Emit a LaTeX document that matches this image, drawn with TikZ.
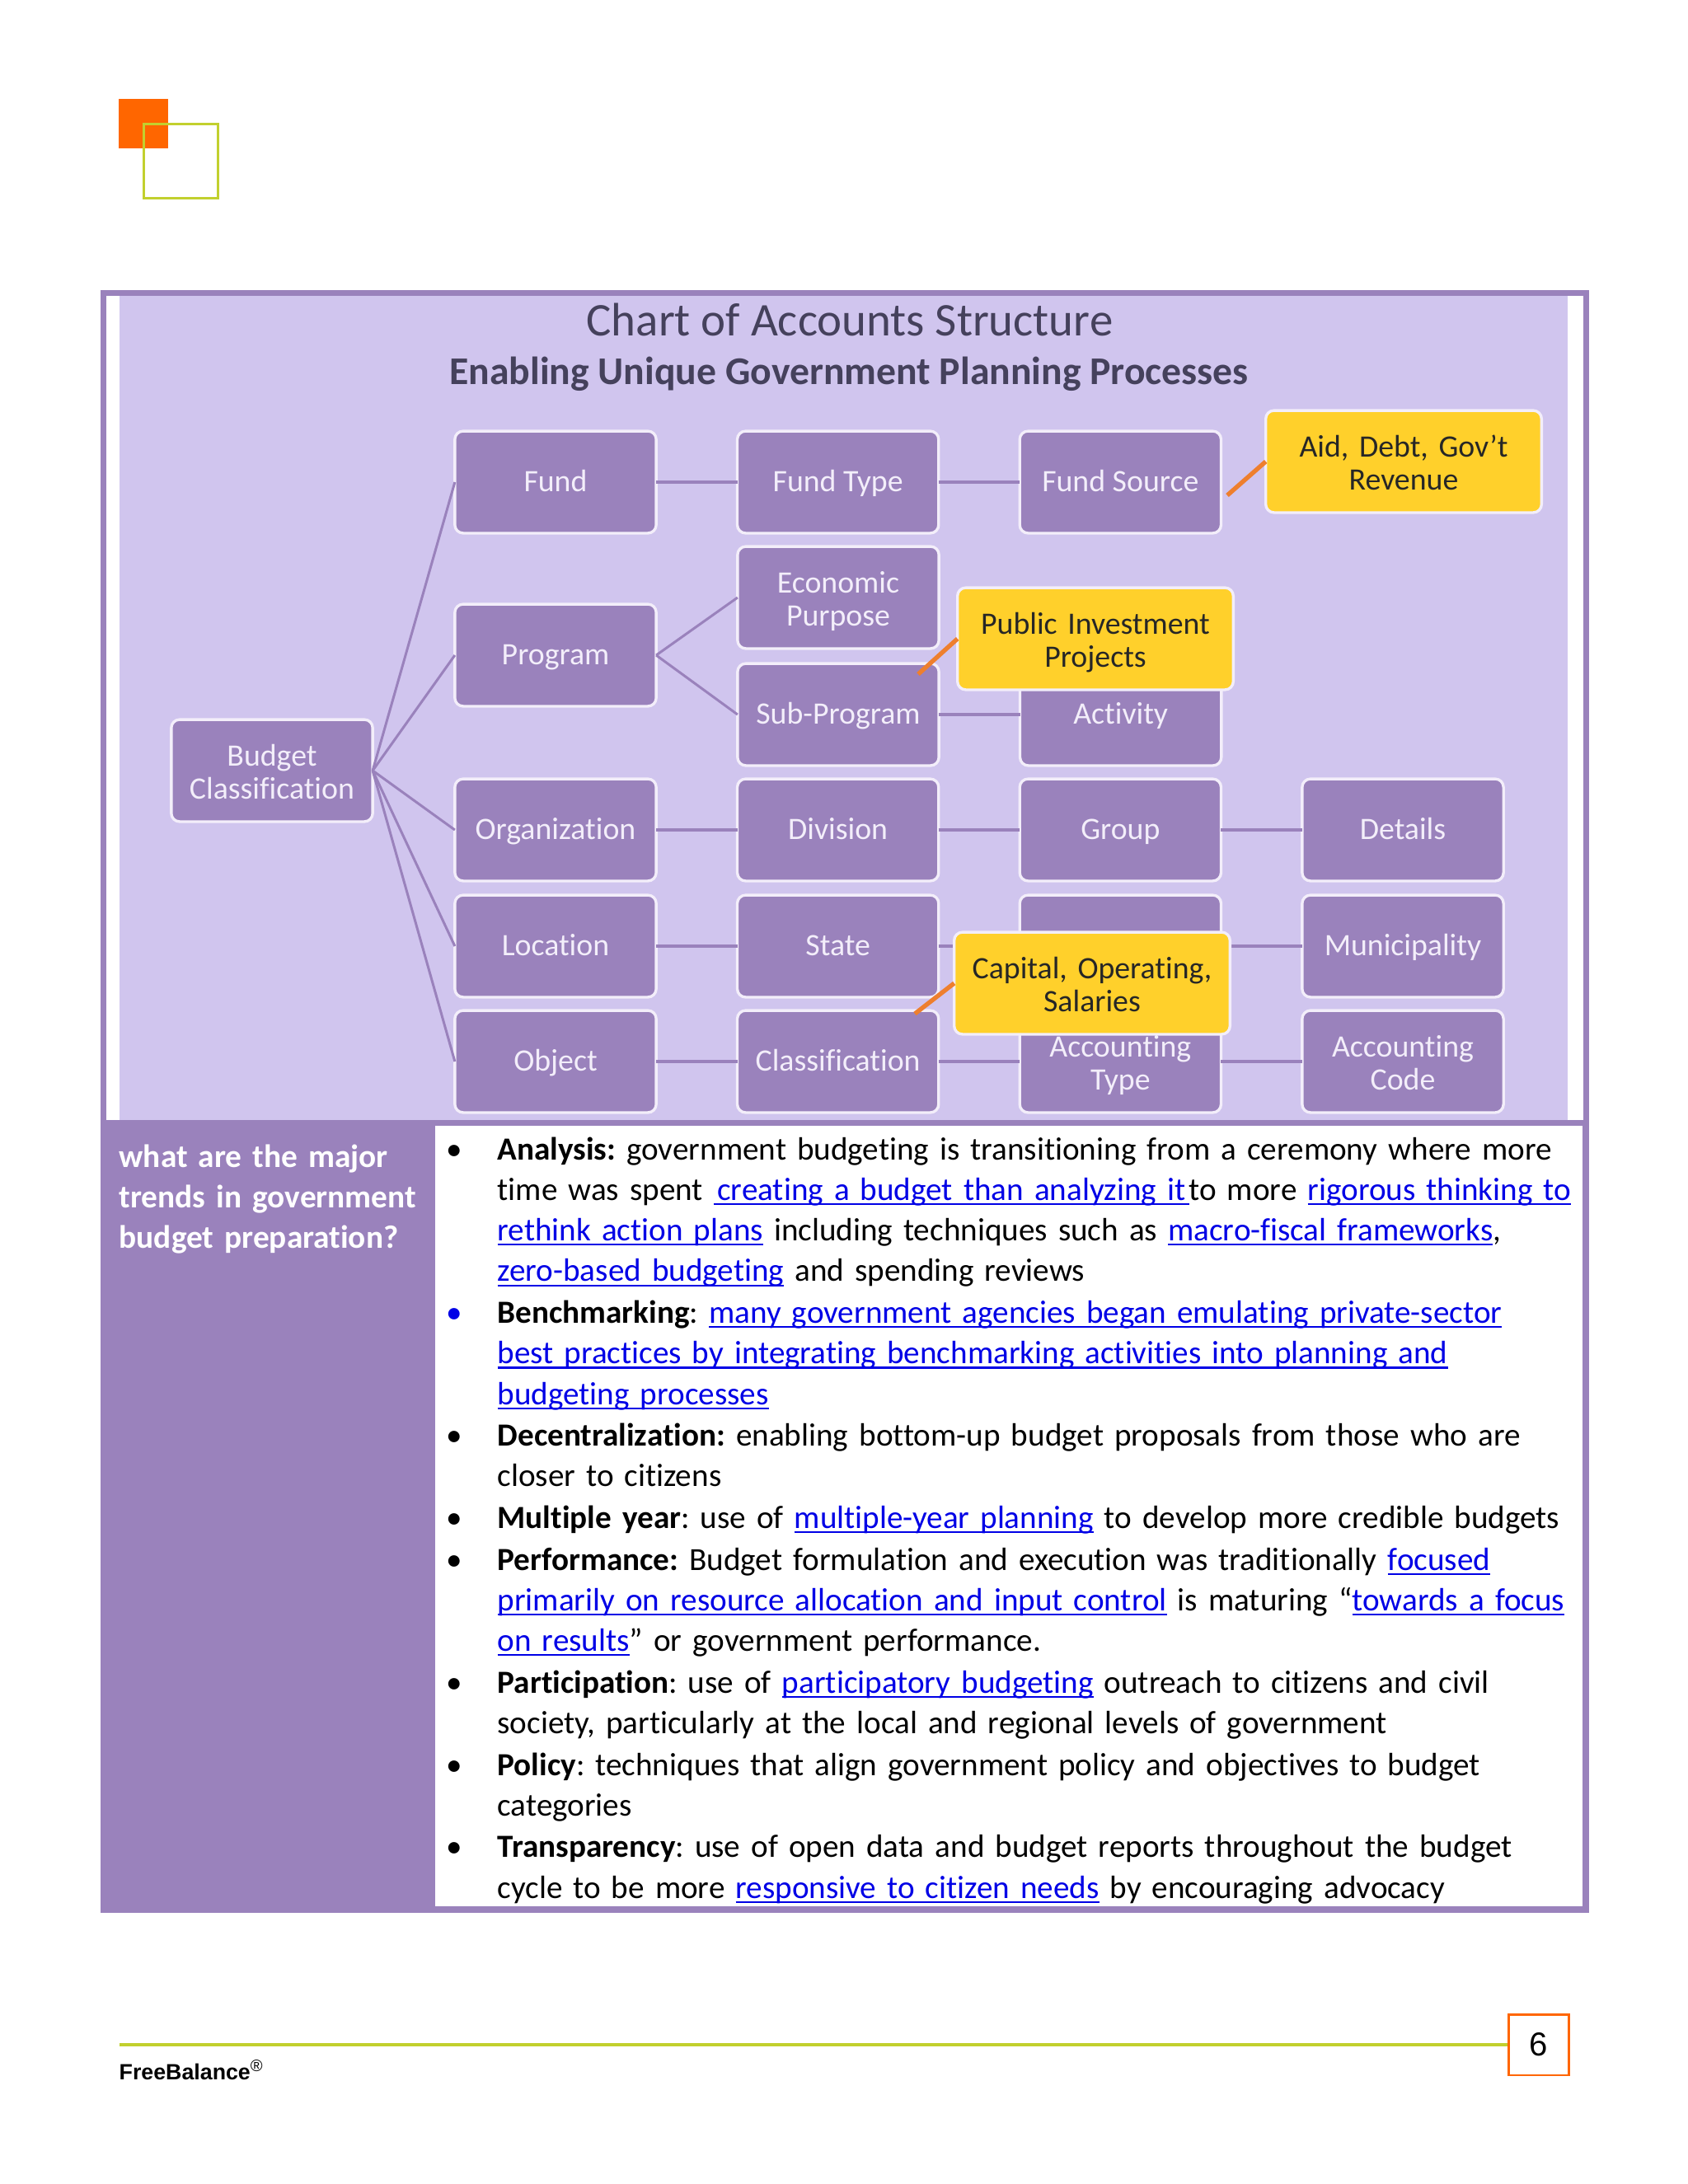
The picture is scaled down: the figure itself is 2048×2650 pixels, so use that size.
\documentclass[tikz,border=0pt]{standalone}
\usepackage{fontspec}
\setmainfont{Carlito}[Ligatures=NoCommon]
\newfontfamily\footerfont{Liberation Sans}
\usepackage{tikz}
\usetikzlibrary{positioning}
\definecolor{framepurple}{HTML}{9A82BC}
\definecolor{chartlilac}{HTML}{D0C5EE}
\definecolor{boxedge}{HTML}{F3EEFA}
\definecolor{calloutyellow}{HTML}{FFD02B}
\definecolor{calloutline}{HTML}{EE7F2E}
\definecolor{titlegrey}{HTML}{45415C}
\definecolor{linkblue}{HTML}{0000E6}
\definecolor{logoorange}{HTML}{FF6600}
\definecolor{logogreen}{HTML}{C2D02E}
\newcommand{\lnk}[1]{\leavevmode{\color{linkblue}\setbox0\hbox{#1}\rlap{\rule[-1.7pt]{\wd0}{0.6pt}}\box0}}
\newcommand{\blt}{\llap{\textbullet\hspace{12.7pt}}}
\newcommand{\bltblue}{\llap{\color{linkblue}\textbullet\hspace{12.7pt}}}
\tikzset{account/.style={%
        rectangle,
        rounded corners=3pt,
        minimum width=73pt,
        minimum height=37pt,
        inner sep=0pt,
        outer sep=0pt,
        align=center,
        font=\fontsize{11.3}{12}\selectfont,
        execute at begin node=\rule{0pt}{10.2pt},
        execute at end node=\strut,
        text=boxedge,
        draw=boxedge,
        line width=1pt,
        fill=framepurple
    }}
\tikzset{twolines/.style={text width=70pt,execute at begin node=\rule{0pt}{12.4pt}}}
\tikzset{callout/.style={%
        account,
        twolines,
        text width=97pt,
        minimum width=100pt,
        text=black!85,
        fill=calloutyellow
    }}
\tikzset{branch/.style={line width=1.1pt,framepurple}}
\tikzset{diagonal/.style={line width=0.9pt,framepurple}}
\tikzset{pointer/.style={line width=1.6pt,calloutline}}
\tikzset{trend/.style={%
        inner sep=0pt,
        text width=410pt,
        align=left,
        font=\frenchspacing\fontsize{11.7}{14.72}\selectfont,
        execute at begin node=\strut,
        execute at end node=\strut
    }}

\begin{document}
\begin{tikzpicture}[x=0.29883pt,y=-0.29883pt,node distance=29.4pt]
    \useasboundingbox (0,0) rectangle (2048,2650);
    % logo
    \fill[logoorange] (144,120) rectangle (204,180);
    \draw[logogreen,line width=1pt] (174.5,150.5) rectangle (264.5,240.5);
    % panels
    \fill[framepurple] (122,352) rectangle (1928,2321);
    \fill[white] (129,359) rectangle (1921,1359);
    \fill[chartlilac] (145,359) rectangle (1902,1359);
    \fill[white] (528,1366) rectangle (1920,2313);
    % chart
    \node [titlegrey,font=\fontsize{17}{20}\selectfont] (title) at (1031,388) {Chart of Accounts Structure};
    \node [titlegrey,font=\bfseries\fontsize{14.25}{16}\selectfont] (subtitle) at (1030,454) {Enabling Unique Government Planning Processes};
    \node [account,twolines] (budget) at (330,935) {Budget\\Classification};
    \node [account] (fund) at (674,585) {Fund};
    \node [account] (fundtype) [right=of fund] {Fund Type};
    \node [account] (fundsource) [right=of fundtype] {Fund Source};
    \node [account] (program) at (674,795) {Program};
    \node [account,twolines] (economic) at (1017,725) {Economic\\Purpose};
    \node [account] (subprogram) at (1017,867) {Sub-Program};
    \node [account] (activity) [right=of subprogram] {Activity};
    \node [account] (organization) at (674,1007) {Organization};
    \node [account] (division) [right=of organization] {Division};
    \node [account] (group) [right=of division] {Group};
    \node [account] (details) [right=of group] {Details};
    \node [account] (location) at (674,1148) {Location};
    \node [account] (state) [right=of location] {State};
    \node [account] (region) [right=of state] {};
    \node [account] (municipality) [right=of region] {Municipality};
    \node [account] (object) at (674,1288) {Object};
    \node [account] (classification) [right=of object] {Classification};
    \node [account,twolines] (acctype) [right=of classification] {Accounting\\Type};
    \node [account,twolines] (acccode) [right=of acctype] {Accounting\\Code};
    \path[diagonal] (budget.east) edge (fund.west);
    \path[diagonal] (budget.east) edge (program.west);
    \path[diagonal] (budget.east) edge (organization.west);
    \path[diagonal] (budget.east) edge (location.west);
    \path[diagonal] (budget.east) edge (object.west);
    \path[diagonal] (program.east) edge (economic.west);
    \path[diagonal] (program.east) edge (subprogram.west);
    \path[branch] (fund) edge (fundtype);
    \path[branch] (fundtype) edge (fundsource);
    \path[branch] (subprogram) edge (activity);
    \path[branch] (organization) edge (division);
    \path[branch] (division) edge (group);
    \path[branch] (group) edge (details);
    \path[branch] (location) edge (state);
    \path[branch] (state) edge (region);
    \path[branch] (region) edge (municipality);
    \path[branch] (object) edge (classification);
    \path[branch] (classification) edge (acctype);
    \path[branch] (acctype) edge (acccode);
    % callouts
    \node [callout] (aid) at (1703,560) {Aid, Debt, Gov’t\\Revenue};
    \node [callout] (public) at (1329,775) {Public Investment\\Projects};
    \node [callout] (capital) at (1325,1193) {Capital, Operating,\\Salaries};
    \coordinate (aidtip) at (1489,601);
    \coordinate (publictip) at (1114,818);
    \coordinate (capitaltip) at (1110,1230);
    \draw[pointer] (aid.west) -- (aidtip);
    \draw[pointer] (public.west) -- (publictip);
    \draw[pointer] (capital.west) -- (capitaltip);
    % left column
    \node [trend,text width=125pt,text=white,font=\frenchspacing\bfseries\fontsize{11.75}{14.72}\selectfont,anchor=north west] (question) at (144,1381) {what are the major\\trends in government\\budget preparation?};
    % trends
    \node [trend,anchor=north west] (analysis) at (603,1372) {\blt\textbf{Analysis:} government budgeting is transitioning from a ceremony where more\\time was spent \lnk{\hspace{1.3pt}creating a budget than analyzing it\hspace{1.3pt}}to more \lnk{rigorous thinking to}\\\lnk{rethink action plans} including techniques such as \lnk{macro-fiscal frameworks},\\\lnk{zero-based budgeting} and spending reviews};
    \node [trend] (benchmarking) [below=0pt of analysis] {\bltblue\textbf{Benchmarking}: \lnk{many government agencies began emulating private-sector}\\\lnk{best practices by integrating benchmarking activities into planning and}\\\lnk{budgeting processes}};
    \node [trend] (decentralization) [below=0pt of benchmarking] {\blt\textbf{Decentralization:} enabling bottom-up budget proposals from those who are\\closer to citizens};
    \node [trend] (multiyear) [below=0pt of decentralization] {\blt\textbf{Multiple year}: use of \lnk{multiple-year planning} to develop more credible budgets};
    \node [trend] (performance) [below=0pt of multiyear] {\blt\textbf{Performance:} Budget formulation and execution was traditionally \lnk{focused}\\\lnk{primarily on resource allocation and input control} is maturing “\lnk{towards a focus}\\\lnk{on results}” or government performance.};
    \node [trend] (participation) [below=0pt of performance] {\blt\textbf{Participation}: use of \lnk{participatory budgeting} outreach to citizens and civil\\society, particularly at the local and regional levels of government};
    \node [trend] (policy) [below=0pt of participation] {\blt\textbf{Policy}: techniques that align government policy and objectives to budget\\categories};
    \node [trend] (transparency) [below=0pt of policy] {\blt\textbf{Transparency}: use of open data and budget reports throughout the budget\\cycle to be more \lnk{responsive to citizen needs} by encouraging advocacy};
    % footer
    \coordinate (rulestart) at (145,2481);
    \node [rectangle,draw=logoorange,line width=0.8pt,minimum width=22pt,minimum height=22pt,inner sep=0pt,font=\footerfont\fontsize{12}{14}\selectfont] (pagebox) at (1867,2481) {6};
    \draw[logogreen,line width=1pt] (rulestart) -- (pagebox.west);
    \node [anchor=base west,inner sep=0pt,font=\footerfont\bfseries\fontsize{8}{10}\selectfont] (brand) at (144,2523) {FreeBalance\textsuperscript{\textmd{®}}};
\end{tikzpicture}
\end{document}
